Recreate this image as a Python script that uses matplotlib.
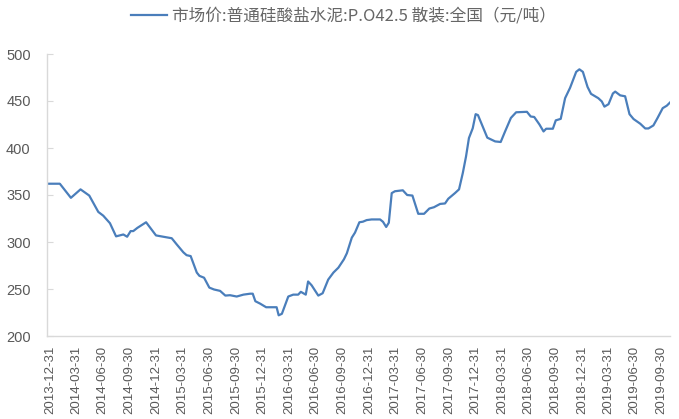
import matplotlib
matplotlib.use("Agg")
import matplotlib.pyplot as plt
import pandas as pd

dates = [
    "2013-12-24", "2014-02-03", "2014-03-13", "2014-04-15", "2014-05-15", "2014-06-15",
    "2014-07-02", "2014-07-25", "2014-08-15", "2014-09-09", "2014-09-22", "2014-10-04",
    "2014-10-13", "2014-10-27", "2014-11-26", "2014-12-30", "2015-01-24", "2015-02-22",
    "2015-03-11", "2015-04-03", "2015-04-14", "2015-04-28", "2015-05-19", "2015-05-28",
    "2015-06-13", "2015-07-01", "2015-07-17", "2015-08-07", "2015-08-25", "2015-09-10",
    "2015-10-03", "2015-10-26", "2015-11-18", "2015-11-27", "2015-12-06", "2015-12-22",
    "2016-01-12", "2016-02-17", "2016-02-24", "2016-03-06", "2016-03-28", "2016-04-14",
    "2016-05-01", "2016-05-10", "2016-05-27", "2016-06-04", "2016-06-16", "2016-07-09",
    "2016-07-24", "2016-08-12", "2016-08-30", "2016-09-16", "2016-10-05", "2016-10-15",
    "2016-11-01", "2016-11-12", "2016-11-27", "2016-12-09", "2016-12-22", "2017-01-08",
    "2017-02-06", "2017-02-16", "2017-02-27", "2017-03-08", "2017-03-18", "2017-03-29",
    "2017-04-25", "2017-05-10", "2017-05-28", "2017-06-17", "2017-07-07", "2017-07-25",
    "2017-08-10", "2017-08-31", "2017-09-17", "2017-09-28", "2017-10-21", "2017-11-04",
    "2017-11-17", "2017-11-28", "2017-12-08", "2017-12-21", "2017-12-31", "2018-01-08",
    "2018-02-09", "2018-03-08", "2018-03-27", "2018-04-11", "2018-05-01", "2018-05-19",
    "2018-06-25", "2018-07-08", "2018-07-20", "2018-08-07", "2018-08-21", "2018-08-30",
    "2018-09-22", "2018-10-02", "2018-10-19", "2018-11-03", "2018-11-20", "2018-12-11",
    "2018-12-22", "2019-01-03", "2019-01-19", "2019-01-31", "2019-02-25", "2019-03-09",
    "2019-03-18", "2019-04-01", "2019-04-16", "2019-04-24", "2019-05-11", "2019-05-28",
    "2019-06-12", "2019-06-26", "2019-07-19", "2019-08-05", "2019-08-16", "2019-09-02",
    "2019-09-16", "2019-10-04", "2019-10-18", "2019-10-29",
]
prices = [
    362, 362, 347, 356, 349.4, 332,
    328, 320, 306, 308, 305.6, 311.6,
    311.6, 315, 321, 307, 305.6, 304,
    297.5, 289, 286, 285, 267.5, 264,
    262, 251.5, 249.5, 248, 243, 243.4,
    242, 244, 245, 245, 237, 234.5,
    230.6, 230.6, 222, 223.6, 242, 244,
    244, 247, 244, 258, 254, 243,
    245.5, 260, 267.5, 272.7, 281.6, 288,
    304.6, 310, 321, 321.6, 323.3, 324,
    324, 321.5, 316, 320.5, 352, 354,
    355, 350, 349.4, 330, 330, 335.6,
    337, 340.5, 341, 346, 352, 356,
    373.5, 391, 410.6, 421, 436, 435,
    411, 407, 406.4, 417.6, 432, 438,
    438.5, 433.5, 433, 425, 417.6, 420.5,
    420.5, 429.4, 431, 453, 464, 481,
    483.7, 481, 465, 457.6, 453, 449.5,
    444, 446.6, 458, 460, 456, 455,
    436, 430.8, 425.8, 420.8, 420.8, 424,
    431.8, 442.4, 445, 448.4,
]
tick_dates = [
    "2013-12-31", "2014-03-31", "2014-06-30", "2014-09-30", "2014-12-31",
    "2015-03-31", "2015-06-30", "2015-09-30", "2015-12-31", "2016-03-31",
    "2016-06-30", "2016-09-30", "2016-12-31", "2017-03-31", "2017-06-30",
    "2017-09-30", "2017-12-31", "2018-03-31", "2018-06-30", "2018-09-30",
    "2018-12-31", "2019-03-31", "2019-06-30", "2019-09-30",
]
y_ticks = [200, 250, 300, 350, 400, 450, 500]
series_label = "市场价:普通硅酸盐水泥:P.O42.5 散装:全国（元/吨）"

x = pd.to_datetime(dates)
xt = pd.to_datetime(tick_dates)

fig = plt.figure(figsize=(6.79, 4.19), dpi=100)
ax = fig.add_axes([47.3 / 679, 83 / 419, (670 - 47.3) / 679, 282 / 419])

line_color = "#4A7EBB"
ax.plot(x, prices, color=line_color, linewidth=1.6, label=series_label,
        solid_joinstyle="round")

ax.set_ylim(200, 500)
ax.set_yticks(y_ticks)
ax.set_xlim(pd.Timestamp("2013-12-22"), pd.Timestamp("2019-10-29"))
ax.set_xticks(xt)
ax.set_xticklabels(tick_dates, rotation=90, fontsize=9.5, color="#595959",
                   family=["Liberation Sans", "DejaVu Sans"])
for lbl in ax.get_yticklabels():
    lbl.set_fontsize(10.5)
    lbl.set_color("#595959")
    lbl.set_family(["Liberation Sans", "DejaVu Sans"])

for s in ["top", "right"]:
    ax.spines[s].set_visible(False)
for s in ["left", "bottom"]:
    ax.spines[s].set_color("#D9D9D9")
    ax.spines[s].set_linewidth(1.0)

ax.tick_params(axis="y", direction="in", length=4, color="#D9D9D9", pad=12)
ax.tick_params(axis="x", length=0, pad=7)

leg = fig.legend(loc="upper center", bbox_to_anchor=(0.506, 1.018), frameon=False,
                 handlelength=2.2, handletextpad=0.3,
                 prop={"family": ["Noto Sans CJK SC", "DejaVu Sans"], "size": 12})
for t in leg.get_texts():
    t.set_color("#666666")

fig.savefig("out.png", dpi=100)
